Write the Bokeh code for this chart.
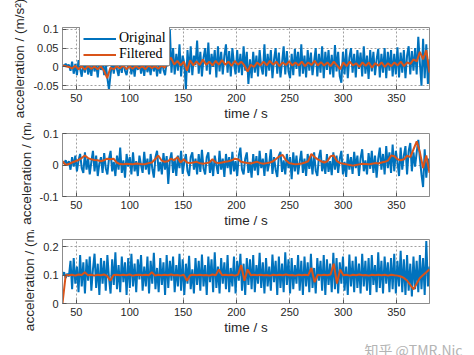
import numpy as np
from bokeh.plotting import figure
from bokeh.layouts import column
from bokeh.models import Range1d, FixedTicker, Legend, LegendItem, Title
from bokeh.embed import file_html
from bokeh.resources import INLINE

# ---------------- data ----------------
T_START, T_END = 37, 381
x_ticks = [50, 100, 150, 200, 250, 300, 350]

y1_ticks = [-0.05, 0, 0.05, 0.1]
y1_labels = ["-0.05", "0", "0.05", "0.1"]
y2_ticks = [-0.1, 0, 0.1]
y2_labels = ["-0.1", "0", "0.1"]
y3_ticks = [0, 0.1, 0.2]
y3_labels = ["0", "0.1", "0.2"]

# original signals, in 10^-3 m/s^2
orig1_milli = [
    5, 2, 8, 3, 6,
    -10, 14, -18, 8, -22, 18, -5, -26, 12, -15, 20, -20, 4, -24, 16, -12, 10, -28, 18, -8, 14, -22, 6, -30,
    -60, -20,
    12, -18, 16, -6, -24, 14, -16, 20, -10, -22, 8, 18, -20, 12, -26, 15, -8, 20, -18, 10, -24, 16, -14, 6,
    -22, 19, -12, 14, -25, 10, -18, 20, -8, -22, 15,
    40, 100, -15,
    50, -20, 35, -10, 60, -25, 30, 10,
    -60,
    45, -15, 55, -22, 30, 5, 70, -18, 40, -25, 25, 50, -10, 65, -20, 35, 0, 45, -28, 55, -12, 40, -20, 30,
    60, -15, 42, -25, 50, 8, -20, 45, -15, 35, -22, 55, -10, 40,
    -45, 20,
    -30, 40, -15, 30, -25, 45, 0, -20, 60, -25, 35, -10, 45, -30, 20, 50, -18, 38, -28, 12, 55, -20, 42, -12,
    -30, 35, -22, 48, -5, 40, -25, 60, -18, 30, -28, 45, -10, 38, -22, 15, 50, -25, 35, -15, 55, -30, 40, -8,
    45, -20, 32, -28, 58, -12, 40, -25,
    -42,
    40, -20, 48, -30, 25, 50, -15, 35, -28, 45, -5, 38, -25, 55, -18, 30, -32, 45, -12, 40, -22, 20, 48, -28,
    35, -15, 50, -30, 40, -10, 45, -25, 35, -20, 52, -28, 38, -15, 45, -30, 30, 55, -20, 42, -10, 50,
    -20, 80, 10, -50, 75, -30, 60, -45, 20]

orig2_milli = [
    10, 5, 15, 0, 12,
    -15, 25, -5, 30, -20, 15, 35, -10, -25, 40, -15, 20, -30, 10, 45, -20, 30, -35, 5, 25,
    -25, 38, -10, -30, 20, 45, -20, 10, -35, 30, -15, 55, -25, 15, -40, 35, -5, 25, -30, 40,
    -20, 12, -35, 30, 0, -25, 42, -15, 20, -30, 35, -10, -40, 25, 45, -20, 10, -30, 38, -15,
    28, -60, 15, 40, -25, 20, -35, 30, -10, 45, -28, 10, 35, -20, -35, 25, 40, -15, 20, -30,
    35, -22, 48, -10, -30, 25, 40, -25, 15, -35, 30, 0, -28, 45, -15, 20, -38, 35, -10, 25,
    -30, 42, -20, 12, -35, 30, 55, -15, -30, 20, 40, -25, 10, -40, 35, -18, 28, -32, 45, -10,
    20, -35, 38, -20, 5, 50, -28, 25, -15, -38, 30, 42, -22, 15, -30, 35, -10, 25, -45, 40,
    -20, 30, -30, 10, 45, -25, 20, -35, 35, -12, 28, -30, 40, -18, -35, 25, 48, -20, 15, -28,
    35, -22, 12, -32, 40, -15, 30, -25, 20, 45, -30, 10, -38, 35, -15, 25, -28, 42, -10, 30,
    -35, 22, 50, -20, 15, -30, 38, -12, 45, -25, 30, -40, 20, 55, -15, 35, -30, 60, -10,
    40, -25, 65, -20, 45, 10, -35, 55, -15, 30, 60, -30, 45, 70, -20, 40, -5,
    40, 80, 20, -30, -70, 50, -40, 20, -10]

orig3_milli = [
    100, 110, 90, 105, 95,
    150, 50, 160, 70, 130, 40, 170, 60, 145, 35, 155, 80, 165, 45, 120, 175, 55, 140, 30, 160,
    70, 150, 45, 170, 90, 35, 155, 65, 180, 50, 135, 40, 165, 75, 145, 30, 160, 55, 175, 60,
    140, 40, 155, 85, 170, 45, 130, 60, 165, 35, 150, 70, 178, 50, 125, 40, 160, 65, 145, 30,
    170, 55, 150, 80, 165, 40, 135, 60, 175, 45, 155, 30, 140, 70, 168, 50, 120, 35, 160, 65,
    150, 45, 172, 60, 135, 30, 165, 75, 155, 40, 180, 55, 130, 35, 160, 70, 145, 50, 170, 40,
    125, 60, 165, 35, 150, 80, 175, 45, 140, 30, 160, 65, 155, 50, 170, 40, 135, 70, 178, 55,
    145, 35, 160, 60, 130, 45, 172, 75, 150, 30, 165, 55, 140, 40, 180, 65, 155, 35, 160, 50,
    135, 70, 170, 45, 150, 30, 165, 60, 145, 40, 175, 55, 125, 35, 160, 80, 150, 45, 170, 30,
    155, 65, 140, 40, 178, 50, 160, 35, 145, 70, 165, 45, 130, 30, 172, 60, 150, 40, 165, 55,
    140, 35, 175, 60, 150, 45, 160, 30, 170, 65, 135, 40, 180, 55, 150, 35, 165, 70, 145, 40,
    160, 50, 175, 35, 150, 60, 185, 40, 155, 30, 170, 45, 140, 25, 165, 50,
    150, 40, 170, 50, 160, 30, 220, 60, 130]

# filtered signals, in m/s^2
filt1 = [0.004, 0.002, 0.0, -0.004, 0.003, -0.006, 0.002, -0.007, 0.003, -0.005,
         0.001, -0.006, 0.002, -0.01, -0.03, -0.002, -0.006, 0.002, -0.004, 0.004,
         -0.006, 0.002, -0.005, 0.003, -0.004, 0.002, -0.006, 0.004, -0.003, 0.002,
         -0.005, 0.004, -0.002, 0.012, 0.025, 0.006, 0.016, 0.004, 0.014, -0.01,
         0.018, 0.004, 0.015, 0.005, 0.02, 0.006, 0.014, 0.004, 0.016, 0.006,
         0.018, 0.006, 0.014, 0.003, 0.016, 0.006, 0.014, 0.004, -0.012, 0.006,
         0.0, 0.012, 0.004, 0.014, 0.004, 0.016, 0.006, 0.014, 0.002, 0.012,
         0.005, 0.015, 0.004, 0.012, 0.004, 0.014, 0.002, 0.012, 0.005, 0.016,
         0.004, 0.013, 0.004, 0.012, 0.002, 0.014, 0.004, -0.006, 0.012, 0.002,
         0.014, 0.004, 0.01, 0.0, 0.012, 0.003, 0.012, -0.002, 0.01, 0.003,
         0.012, 0.0, 0.01, 0.002, 0.012, 0.004, 0.014, 0.002, 0.012, 0.008,
         0.02, 0.015, 0.04, 0.02, 0.045, -0.015]

filt2 = [0.012, 0.0, 0.003, 0.008, 0.012, 0.016, 0.022, 0.03, 0.022, 0.018,
         0.016, 0.015, 0.012, 0.015, 0.02, 0.018, 0.02, 0.008, 0.003, 0.002,
         0.004, 0.003, 0.002, 0.005, 0.004, 0.002, 0.003, 0.006, 0.008, 0.018,
         0.03, 0.015, 0.01, 0.012, 0.02, 0.015, 0.025, 0.008, 0.018, 0.008,
         0.006, 0.008, 0.01, 0.006, 0.004, 0.006, 0.008, 0.018, 0.008, 0.006,
         0.008, 0.01, 0.012, 0.015, 0.02, 0.018, 0.01, 0.008, 0.006, 0.005,
         0.008, 0.01, 0.006, 0.004, 0.006, 0.008, 0.012, 0.02, 0.028, 0.032,
         0.015, 0.006, 0.004, 0.002, 0.003, 0.005, 0.008, 0.012, 0.035, 0.025,
         0.018, 0.012, 0.008, 0.012, 0.028, 0.03, 0.012, 0.006, 0.004, 0.002,
         0.0, -0.002, 0.0, 0.002, 0.004, 0.003, 0.002, 0.004, 0.006, 0.005,
         0.008, 0.01, 0.014, 0.03, 0.028, 0.018, 0.015, 0.018, 0.03, 0.025,
         0.05, 0.075, 0.04, -0.01, 0.03, -0.025]

filt3 = [0.0, 0.1, 0.099, 0.101, 0.098, 0.102, 0.1, 0.11, 0.099, 0.101,
         0.098, 0.101, 0.099, 0.102, 0.097, 0.08, 0.1, 0.101, 0.099, 0.101,
         0.099, 0.102, 0.098, 0.1, 0.101, 0.099, 0.101, 0.099, 0.11, 0.098,
         0.101, 0.099, 0.101, 0.099, 0.102, 0.099, 0.1, 0.098, 0.101, 0.08,
         0.099, 0.101, 0.099, 0.101, 0.099, 0.1, 0.098, 0.102, 0.099, 0.12,
         0.099, 0.101, 0.099, 0.101, 0.098, 0.101, 0.135, 0.08, 0.12, 0.099,
         0.101, 0.099, 0.101, 0.099, 0.1, 0.098, 0.101, 0.099, 0.101, 0.099,
         0.102, 0.099, 0.1, 0.098, 0.101, 0.099, 0.101, 0.099, 0.125, 0.075,
         0.101, 0.099, 0.101, 0.099, 0.102, 0.14, 0.07, 0.12, 0.099, 0.101,
         0.098, 0.101, 0.099, 0.102, 0.099, 0.1, 0.098, 0.101, 0.099, 0.101,
         0.099, 0.101, 0.098, 0.101, 0.099, 0.098, 0.095, 0.09, 0.08, 0.065,
         0.05, 0.07, 0.09, 0.1, 0.11, 0.12]

WATERMARK = "知乎 @TMR.Nic"

BLUE = "#0072BD"
ORANGE = "#D95319"
TXT = "#262626"


def tvec(vals):
    return np.linspace(T_START, T_END, len(vals))


def panel(orig, filt, yr, yt, yl, ftop, fh, bb):
    p = figure(frame_width=367, frame_height=fh,
               x_range=Range1d(T_START, T_END), y_range=Range1d(*yr),
               output_backend="svg", toolbar_location=None,
               min_border_left=62, min_border_right=40,
               min_border_top=ftop, min_border_bottom=bb,
               background_fill_color="white", border_fill_color="white")
    p.outline_line_color = "#8c8c8c"
    p.outline_line_width = 1
    for ax in (p.xaxis, p.yaxis):
        ax.axis_line_color = "#8c8c8c"
        ax.major_tick_in = 4
        ax.major_tick_out = 0
        ax.major_tick_line_color = "#555555"
        ax.minor_tick_line_color = None
        ax.major_label_text_font = "Liberation Sans"
        ax.major_label_text_font_size = "11px"
        ax.major_label_text_color = TXT
        ax.axis_label_text_font = "Liberation Sans"
        ax.axis_label_text_font_size = "13.5px"
        ax.axis_label_text_font_style = "normal"
        ax.axis_label_text_color = TXT
    p.xaxis.ticker = FixedTicker(ticks=x_ticks)
    p.yaxis.ticker = FixedTicker(ticks=yt)
    p.yaxis.major_label_overrides = {v: s for v, s in zip(yt, yl)}
    p.xaxis.major_label_standoff = 4
    p.yaxis.major_label_standoff = 4
    p.xaxis.axis_label_standoff = 1
    p.yaxis.axis_label_standoff = 3
    p.xaxis.axis_label = "time / s"
    p.yaxis.axis_label = "acceleration / (m/s²)"
    for g in (p.xgrid, p.ygrid):
        g.grid_line_color = "#a0a0a0"
        g.grid_line_dash = "2 2"
        g.grid_line_width = 1
    p.xgrid.ticker = FixedTicker(ticks=x_ticks)
    p.ygrid.ticker = FixedTicker(ticks=yt)
    ov = np.asarray(orig, dtype=float) / 1000.0
    r1 = p.line(tvec(ov), ov, line_color=BLUE, line_width=2)
    r2 = p.line(tvec(filt), filt, line_color=ORANGE, line_width=2)
    return p, r1, r2


p1, b1, o1 = panel(orig1_milli, filt1, (-0.06, 0.105), y1_ticks, y1_labels, 27, 62, 34)
p2, b2, o2 = panel(orig2_milli, filt2, (-0.1, 0.1), y2_ticks, y2_labels, 10, 63, 34)
p3, b3, o3 = panel(orig3_milli, filt3, (0, 0.225), y3_ticks, y3_labels, 9, 64, 0)

legend = Legend(items=[LegendItem(label="Original", renderers=[b1]),
                       LegendItem(label="Filtered", renderers=[o1])],
                location=(17, 23), margin=0, padding=3, spacing=0,
                label_height=15, glyph_height=15, glyph_width=33,
                label_standoff=3,
                label_text_font="Liberation Serif", label_text_font_size="14px",
                label_text_color="black",
                border_line_color="#262626", border_line_width=1,
                background_fill_color="white", background_fill_alpha=1)
p1.add_layout(legend, "center")

wm = Title(text=WATERMARK, align="right", text_color="#b4b4b4",
           text_font="Noto Sans CJK SC", text_font_size="14px",
           text_font_style="normal", standoff=0, offset=-33)
p3.add_layout(wm, "below")

layout = column(p1, p2, p3, spacing=0)
open("out.html", "w").write(file_html(layout, INLINE))
